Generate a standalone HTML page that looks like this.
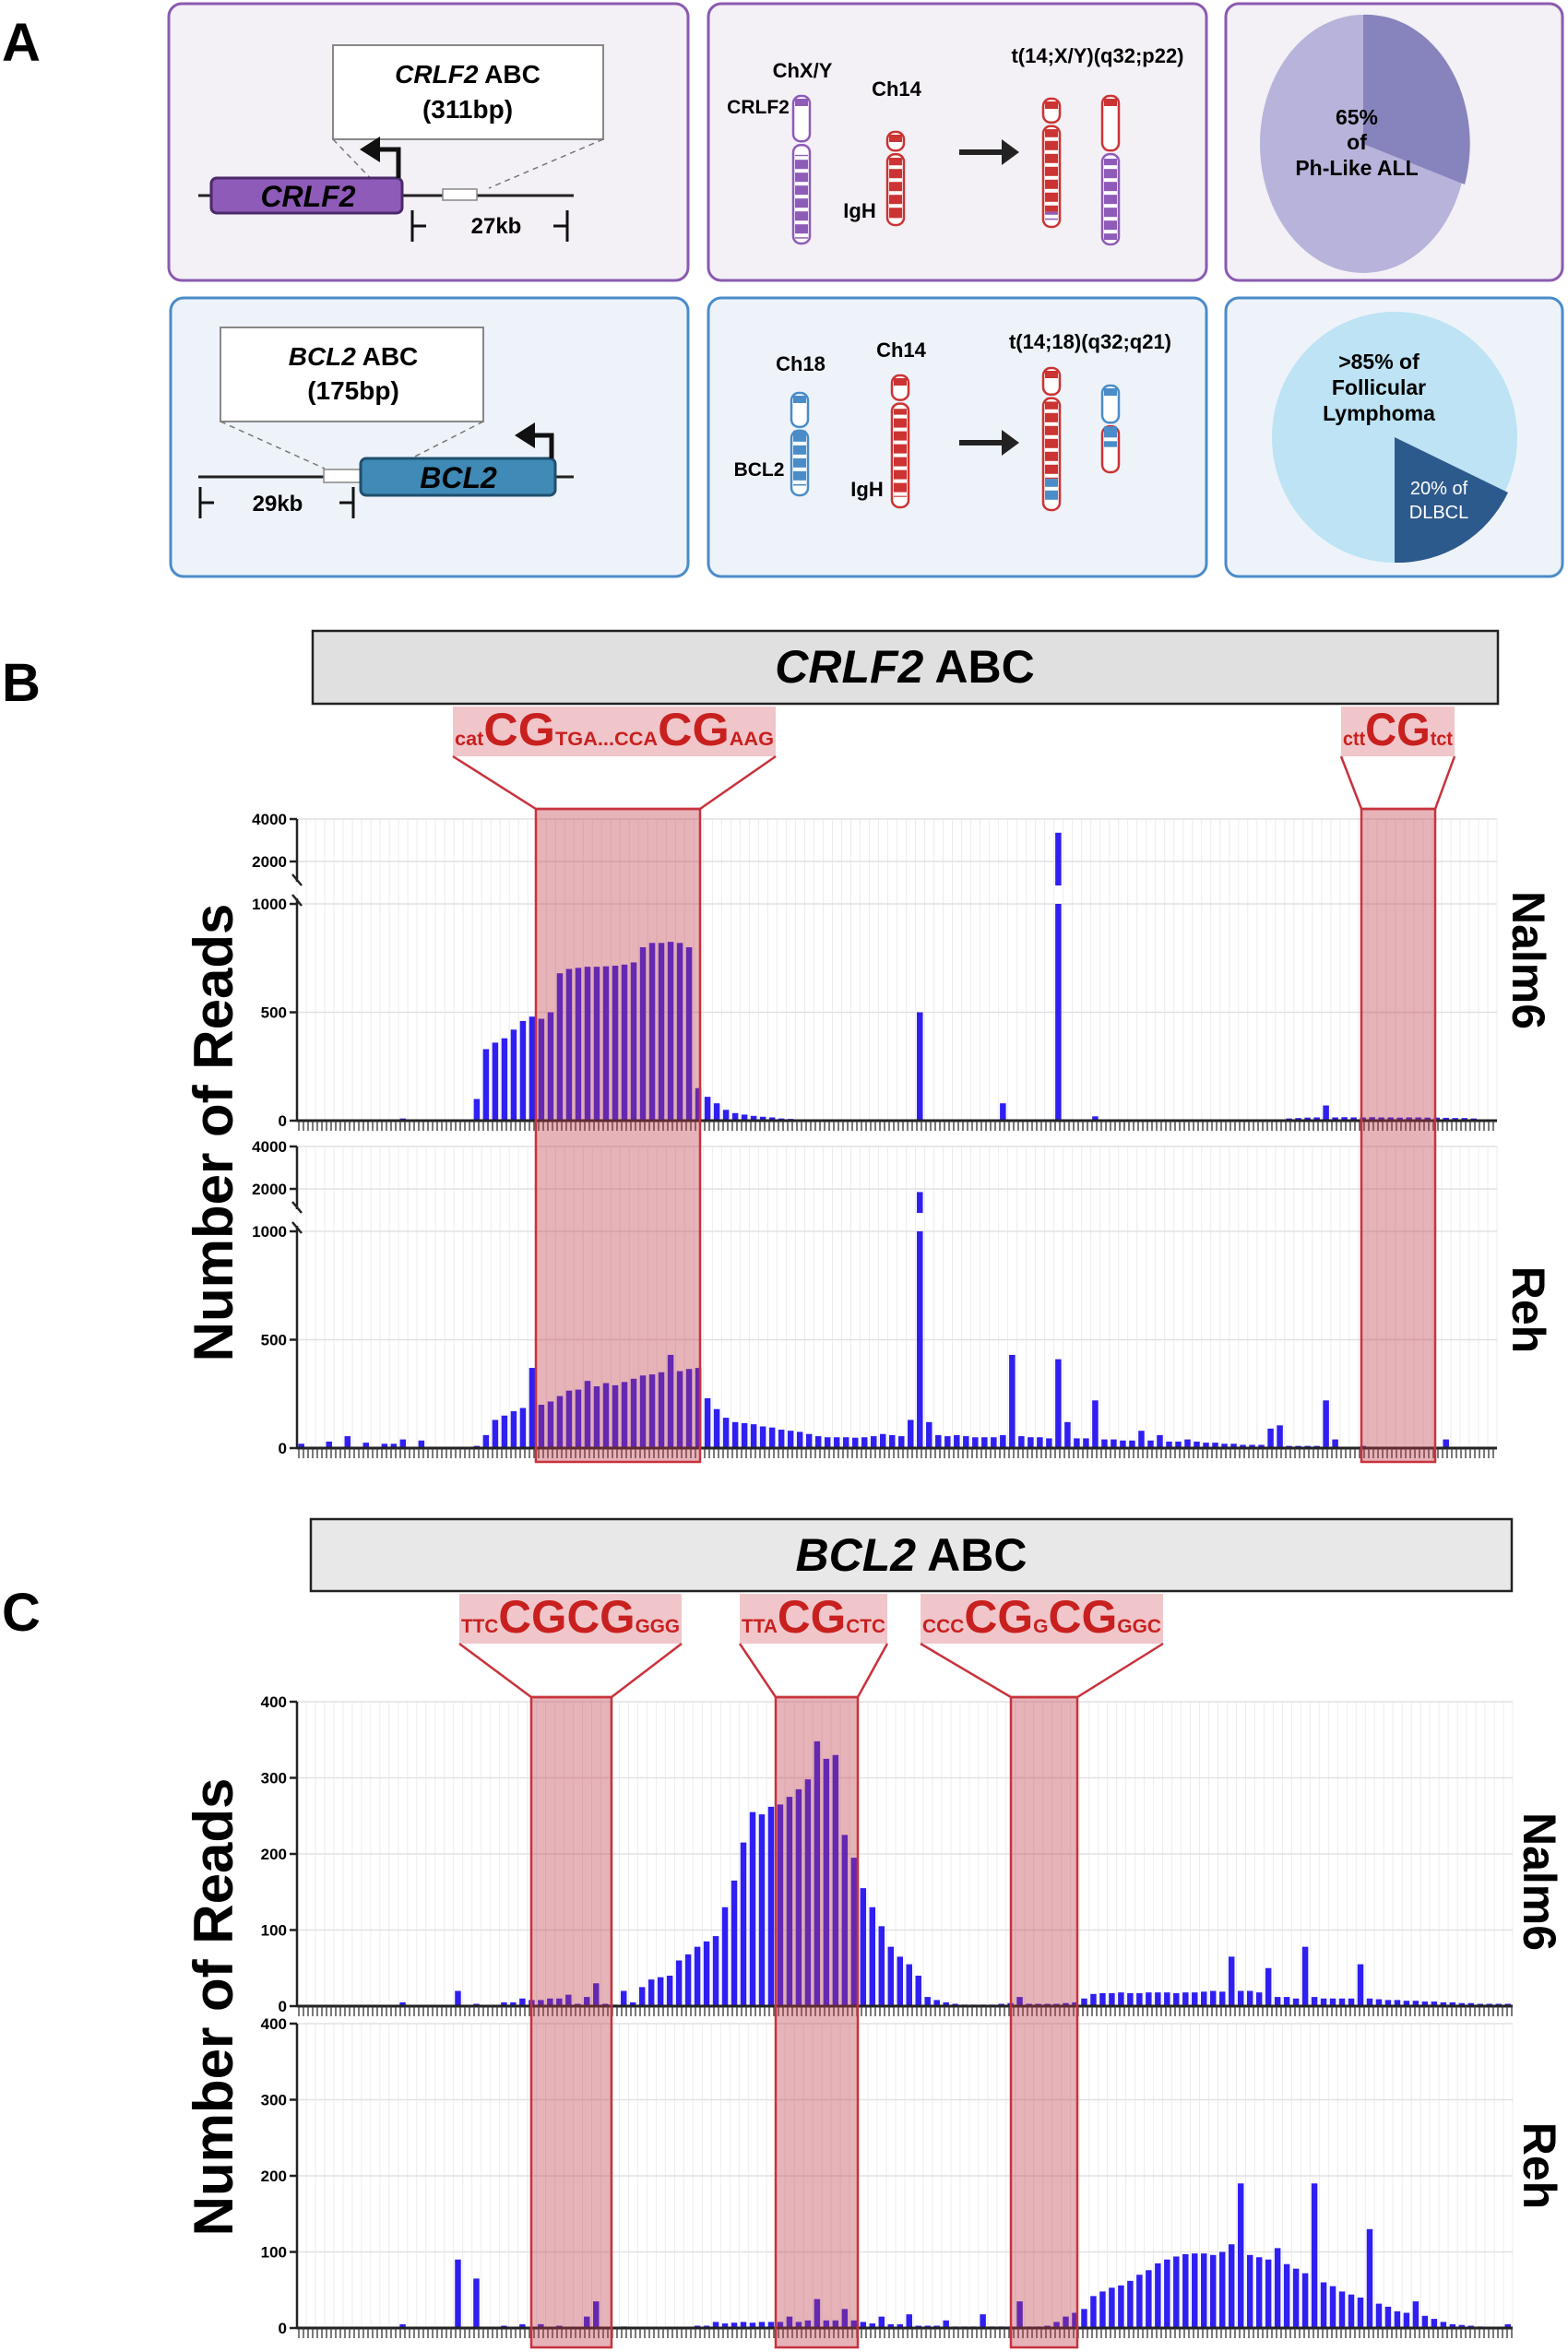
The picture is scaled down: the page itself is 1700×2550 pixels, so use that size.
<!DOCTYPE html>
<html><head><meta charset="utf-8">
<style>
html,body{margin:0;padding:0;background:#fff;}
svg{display:block;font-family:"Liberation Sans",sans-serif;}
</style></head>
<body>
<svg id="fig" width="1700" height="2550" viewBox="0 0 1700 2550" xmlns="http://www.w3.org/2000/svg">
<rect width="1700" height="2550" fill="#fff"/>
<!-- Panel A -->
<text x="2" y="66" font-size="58" font-weight="bold">A</text>
<g>
<rect x="183" y="4" width="563" height="300" rx="14" fill="#f3f0f6" stroke="#8a5ab0" stroke-width="3"/>
<rect x="361" y="49" width="293" height="102" fill="#fff" stroke="#888" stroke-width="2"/>
<text x="507" y="90" font-size="28" font-weight="bold" text-anchor="middle"><tspan font-style="italic">CRLF2</tspan> ABC</text>
<text x="507" y="128" font-size="28" font-weight="bold" text-anchor="middle">(311bp)</text>
<line x1="361" y1="151" x2="412" y2="204" stroke="#777" stroke-width="1.5" stroke-dasharray="6,5"/>
<line x1="654" y1="151" x2="530" y2="204" stroke="#777" stroke-width="1.5" stroke-dasharray="6,5"/>
<line x1="215" y1="212" x2="622" y2="212" stroke="#222" stroke-width="3"/>
<rect x="229" y="193" width="207" height="38" rx="6" fill="#8e5bb8" stroke="#4b2a6b" stroke-width="3"/>
<text x="334" y="224" font-size="32" font-weight="bold" font-style="italic" text-anchor="middle">CRLF2</text>
<rect x="480" y="205" width="37" height="12" fill="#fff" stroke="#888" stroke-width="1.5"/>
<polyline points="432,193 432,162 410,162" fill="none" stroke="#111" stroke-width="5"/>
<polygon points="390,162 412,148 412,176" fill="#111"/>
<line x1="447" y1="228" x2="447" y2="262" stroke="#111" stroke-width="3"/><line x1="447" y1="245" x2="462" y2="245" stroke="#111" stroke-width="3"/>
<line x1="615" y1="228" x2="615" y2="262" stroke="#111" stroke-width="3"/><line x1="600" y1="245" x2="615" y2="245" stroke="#111" stroke-width="3"/>
<text x="538" y="253" font-size="24" font-weight="bold" text-anchor="middle">27kb</text>
</g>
<g>
<rect x="768" y="4" width="540" height="300" rx="14" fill="#f3f0f6" stroke="#8a5ab0" stroke-width="3"/>
<text x="870" y="84" font-size="22" font-weight="bold" text-anchor="middle">ChX/Y</text>
<text x="822" y="123" font-size="21" font-weight="bold" text-anchor="middle">CRLF2</text>
<text x="972" y="104" font-size="22" font-weight="bold" text-anchor="middle">Ch14</text>
<text x="932" y="236" font-size="22" font-weight="bold" text-anchor="middle">IgH</text>
<text x="1190" y="68" font-size="22" font-weight="bold" text-anchor="middle">t(14;X/Y)(q32;p22)</text>
<line x1="1040" y1="165" x2="1088" y2="165" stroke="#222" stroke-width="6"/><polygon points="1105,165 1086,151 1086,179" fill="#222"/>
<g id="chromA"></g>
</g>
<g>
<rect x="1329" y="4" width="365" height="300" rx="14" fill="#f3f0f6" stroke="#8a5ab0" stroke-width="3"/>
<ellipse cx="1478" cy="156" rx="112" ry="140" fill="#b8b3da"/>
<path d="M1478,156 L1478,16 A112,140 0 0,1 1588,200 Z" fill="#8783bc"/>
<text x="1471" y="135" font-size="23" font-weight="bold" text-anchor="middle">65%</text>
<text x="1471" y="162" font-size="23" font-weight="bold" text-anchor="middle">of</text>
<text x="1471" y="190" font-size="23" font-weight="bold" text-anchor="middle">Ph-Like ALL</text>
</g>
<g>
<rect x="185" y="323" width="561" height="302" rx="14" fill="#eef3fa" stroke="#4a8cc8" stroke-width="3"/>
<rect x="239" y="355" width="285" height="102" fill="#fff" stroke="#888" stroke-width="2"/>
<text x="383" y="396" font-size="28" font-weight="bold" text-anchor="middle"><tspan font-style="italic">BCL2</tspan> ABC</text>
<text x="383" y="433" font-size="28" font-weight="bold" text-anchor="middle">(175bp)</text>
<line x1="239" y1="457" x2="352" y2="508" stroke="#777" stroke-width="1.5" stroke-dasharray="6,5"/>
<line x1="524" y1="457" x2="440" y2="500" stroke="#777" stroke-width="1.5" stroke-dasharray="6,5"/>
<line x1="215" y1="517" x2="622" y2="517" stroke="#222" stroke-width="3"/>
<rect x="351" y="509" width="40" height="14" fill="#fff" stroke="#888" stroke-width="1.5"/>
<rect x="391" y="497" width="211" height="40" rx="6" fill="#3f8ab6" stroke="#1f4f6e" stroke-width="3"/>
<text x="497" y="529" font-size="32" font-weight="bold" font-style="italic" text-anchor="middle">BCL2</text>
<polyline points="598,497 598,472 578,472" fill="none" stroke="#111" stroke-width="5"/>
<polygon points="558,472 580,458 580,486" fill="#111"/>
<line x1="217" y1="528" x2="217" y2="562" stroke="#111" stroke-width="3"/><line x1="217" y1="545" x2="232" y2="545" stroke="#111" stroke-width="3"/>
<line x1="383" y1="528" x2="383" y2="562" stroke="#111" stroke-width="3"/><line x1="368" y1="545" x2="383" y2="545" stroke="#111" stroke-width="3"/>
<text x="301" y="554" font-size="24" font-weight="bold" text-anchor="middle">29kb</text>
</g>
<g>
<rect x="768" y="323" width="540" height="302" rx="14" fill="#eef3fa" stroke="#4a8cc8" stroke-width="3"/>
<text x="868" y="402" font-size="22" font-weight="bold" text-anchor="middle">Ch18</text>
<text x="823" y="516" font-size="21" font-weight="bold" text-anchor="middle">BCL2</text>
<text x="977" y="387" font-size="22" font-weight="bold" text-anchor="middle">Ch14</text>
<text x="940" y="538" font-size="22" font-weight="bold" text-anchor="middle">IgH</text>
<text x="1182" y="378" font-size="22" font-weight="bold" text-anchor="middle">t(14;18)(q32;q21)</text>
<line x1="1040" y1="480" x2="1088" y2="480" stroke="#222" stroke-width="6"/><polygon points="1105,480 1086,466 1086,494" fill="#222"/>
<g id="chromB"></g>
</g>
<g>
<rect x="1329" y="323" width="365" height="302" rx="14" fill="#eef3fa" stroke="#4a8cc8" stroke-width="3"/>
<ellipse cx="1512" cy="474" rx="133" ry="136" fill="#bde3f4"/>
<path d="M1512,474 L1635,534 A133,136 0 0,1 1512,610 Z" fill="#2d5a8c"/>
<text x="1495" y="400" font-size="23" font-weight="bold" text-anchor="middle">&gt;85% of</text>
<text x="1495" y="428" font-size="23" font-weight="bold" text-anchor="middle">Follicular</text>
<text x="1495" y="456" font-size="23" font-weight="bold" text-anchor="middle">Lymphoma</text>
<text x="1560" y="536" font-size="20" fill="#fff" text-anchor="middle">20% of</text>
<text x="1560" y="562" font-size="20" fill="#fff" text-anchor="middle">DLBCL</text>
</g>

<!-- Panel B -->
<text x="2" y="760" font-size="58" font-weight="bold">B</text>
<g>
<rect x="339" y="684" width="1285" height="79" fill="#e0e0e0" stroke="#222" stroke-width="2.5"/>
<text x="981" y="740" font-size="50" font-weight="bold" text-anchor="middle"><tspan font-style="italic">CRLF2</tspan> ABC</text>
</g>
<text transform="translate(252,1228) rotate(-90)" font-size="60" font-weight="bold" text-anchor="middle">Number of Reads</text>
<text transform="translate(1640,1041) rotate(90)" font-size="50" font-weight="bold" text-anchor="middle">Nalm6</text>
<text transform="translate(1640,1420) rotate(90)" font-size="50" font-weight="bold" text-anchor="middle">Reh</text>
<g id="chartB"></g>

<!-- Panel C -->
<text x="2" y="1768" font-size="58" font-weight="bold">C</text>
<g>
<rect x="337" y="1647" width="1302" height="78" fill="#e8e8e8" stroke="#222" stroke-width="2.5"/>
<text x="988" y="1703" font-size="50" font-weight="bold" text-anchor="middle"><tspan font-style="italic">BCL2</tspan> ABC</text>
</g>
<text transform="translate(252,2176) rotate(-90)" font-size="60" font-weight="bold" text-anchor="middle">Number of Reads</text>
<text transform="translate(1652,2040) rotate(90)" font-size="50" font-weight="bold" text-anchor="middle">Nalm6</text>
<text transform="translate(1652,2348) rotate(90)" font-size="50" font-weight="bold" text-anchor="middle">Reh</text>
<g id="chartC"></g>
</svg>
<script>
// ---- data ----
const ticksB = [0, 500, 1000, 2000, 4000];
const ticksC = [0, 100, 200, 300, 400];
const nalm6B = [0,0,0,0,0,0,0,0,0,0,0,10,0,0,0,0,0,0,0,100,330,360,380,420,460,480,470,500,680,700,705,710,710,712,715,720,730,800,820,820,825,820,800,150,110,80,50,35,28,22,18,15,10,8,6,5,5,4,4,3,2,2,1,1,1,2,2,500,2,1,1,1,1,1,1,1,80,1,1,1,1,1,3200,1,1,1,20,1,1,1,1,1,1,1,1,1,1,1,1,1,1,1,1,1,1,1,1,10,12,14,15,70,15,16,15,15,16,15,15,14,15,15,14,14,13,12,12,10,5,2];
const rehB = [20,5,5,30,5,55,5,25,5,20,20,40,5,35,2,2,2,3,5,10,60,130,150,170,185,370,200,215,240,265,270,310,285,300,290,305,320,335,340,350,430,355,365,370,230,180,140,120,115,110,100,95,85,80,75,65,55,50,50,50,48,50,55,65,60,55,130,1900,120,60,55,60,55,50,50,50,60,430,55,50,50,45,410,120,45,45,220,40,40,35,35,80,35,60,30,30,40,30,25,25,20,20,15,15,15,90,105,10,10,10,10,220,40,5,5,10,5,5,5,5,5,5,5,5,40,3,3,2,2,2];
const nalm6C = [0,0,0,0,0,0,0,0,0,0,0,5,0,0,0,0,0,20,0,3,0,0,5,5,10,8,8,10,10,15,3,12,30,3,2,20,5,25,35,38,40,60,68,78,85,92,130,165,215,255,252,262,265,275,285,298,348,325,330,225,195,155,130,105,78,65,55,40,12,8,5,3,2,2,2,2,3,4,12,3,3,3,3,4,5,10,16,17,17,18,17,17,18,18,18,17,18,18,19,20,19,65,20,20,18,50,12,12,10,78,12,10,10,10,10,55,10,9,8,8,7,7,6,6,5,5,4,4,3,3,3,3];
const rehC = [0,0,0,0,0,0,0,0,0,0,0,5,0,0,0,0,0,90,0,65,0,0,3,0,5,0,5,0,3,0,0,15,35,0,0,2,0,0,0,0,0,0,0,3,3,8,6,7,8,7,8,8,8,15,8,10,38,10,10,25,10,8,6,15,5,5,18,3,3,3,10,2,2,2,18,2,2,2,35,2,2,3,8,15,20,25,42,48,53,56,62,70,76,85,90,94,97,98,98,96,100,110,190,96,93,90,105,84,78,72,190,60,55,48,44,40,130,32,28,22,20,35,16,12,8,5,4,3,2,1,1,5];
const motifsB = [["cat","CG","TGA...CCA","CG","AAG"],["ctt","CG","tct"]];
const motifsC = [["TTC","CGCG","GGG"],["TTA","CG","CTC"],["CCC","CG","G","CG","GGC"]];

const NS = "http://www.w3.org/2000/svg";
function mk(tag, attrs, parent){
  const e = document.createElementNS(NS, tag);
  for (const k in attrs) e.setAttribute(k, attrs[k]);
  parent.appendChild(e);
  return e;
}

function drawTrack(g, name, vals, ticks, x0, x1, yOf, yBase, yTop, broken){
  const n = vals.length, bw = (x1 - x0) / n;
  const grp = mk("g", {}, g);
  
  
  for (let i = 0; i <= n; i++) {
    const gl = mk("line", {x1: x0 + i*bw, x2: x0 + i*bw, y1: yTop, y2: yBase, stroke: "#ececec", "stroke-width": 1}, grp);
    
    
  }
  ticks.forEach(t => {
    const y = yOf(t);
    const hl = mk("line", {x1: x0, x2: x1, y1: y, y2: y, stroke: "#e2e2e2", "stroke-width": 1.5}, grp);
    
    
    const tk = mk("line", {x1: x0 - 8, x2: x0, y1: y, y2: y, stroke: "#222", "stroke-width": 2.5}, grp);
    
    
    const lb = mk("text", {x: x0 - 11, y: y + 6, "font-size": 17, "font-weight": "bold", "text-anchor": "end"}, grp);
    lb.textContent = t;
    
    
  });
  vals.forEach((v, i) => {
    if (v <= 0) return;
    const bx = x0 + i*bw + 1.5, w = bw - 3.5;
    if (broken && v > 1000) {
      const y1k = yOf(1000);
      const r1 = mk("rect", {x: bx, y: y1k, width: w, height: yBase - y1k, fill: "#2f1ff2"}, grp);
      
      
      const yt = yOf(v), yb = y1k - 20;
      if (yt < yb) {
        const r2 = mk("rect", {x: bx, y: yt, width: w, height: yb - yt, fill: "#2f1ff2"}, grp);
        
        
      }
    } else {
      const yt = yOf(v);
      const r = mk("rect", {x: bx, y: yt, width: w, height: yBase - yt, fill: "#2f1ff2"}, grp);
      
      
    }
  });
  if (broken) {
    const y1k = yOf(1000), y2k = yOf(2000);
    const a1 = mk("line", {x1: x0, x2: x0, y1: yTop, y2: y2k + 22, stroke: "#222", "stroke-width": 2.5}, grp);
    
    
    const a2 = mk("line", {x1: x0, x2: x0, y1: y1k - 6, y2: yBase, stroke: "#222", "stroke-width": 2.5}, grp);
    
    
    [y2k + 20, y1k - 4].forEach(yy => {
      const s = mk("line", {x1: x0 - 5, x2: x0 + 5, y1: yy - 6, y2: yy + 6, stroke: "#222", "stroke-width": 2.5}, grp);
      
      
    });
  } else {
    const a = mk("line", {x1: x0, x2: x0, y1: yTop, y2: yBase, stroke: "#222", "stroke-width": 2.5}, grp);
    
    
  }
  const base = mk("line", {x1: x0, x2: x1, y1: yBase, y2: yBase, stroke: "#222", "stroke-width": 3}, grp);
  
  
  for (let x = x0 + 2; x < x1; x += 5) {
    const t = mk("line", {x1: x, x2: x, y1: yBase, y2: yBase + 11, stroke: "#333", "stroke-width": 1.3}, grp);
    
    
  }
}

function brokenScale(base, y1k, step){
  return v => v <= 1000 ? base - v/1000*(base - y1k) : y1k - step*Math.log2(v/1000);
}
function linScale(base, top, max){ return v => base - v/max*(base - top); }

function drawMotif(g, name, parts, bx0, bx1, by0, by1, rx0, rx1, rTop, rBot){
  const grp = mk("g", {}, g);
  
  
  mk("rect", {x: bx0, y: by0, width: bx1 - bx0, height: by1 - by0, fill: "#f0c6ca"}, grp);
  const t = mk("text", {x: (bx0 + bx1)/2, y: by1 - 12, "text-anchor": "middle", fill: "#c8201f", "font-weight": "bold", textLength: bx1 - bx0 - 4, lengthAdjust: "spacingAndGlyphs"}, grp);
  parts.forEach((p, idx) => {
    const s = mk("tspan", {"font-size": idx % 2 === 1 ? 50 : 21}, t);
    s.textContent = p;
  });
  mk("polyline", {points: `${bx0},${by1} ${rx0},${rTop} ${rx1},${rTop} ${bx1},${by1}`, fill: "none", stroke: "#c8323c", "stroke-width": 2.5}, grp);
  const r = mk("rect", {x: rx0, y: rTop, width: rx1 - rx0, height: rBot - rTop, fill: "rgba(190,55,70,0.38)", stroke: "#c8323c", "stroke-width": 2.5}, grp);
  
  
}

// ---- Panel B ----
const gB = document.getElementById("chartB");
drawTrack(gB, "nalm6-crlf2", nalm6B, ticksB, 322, 1623, brokenScale(1215, 980, 46), 1215, 888, true);
drawTrack(gB, "reh-crlf2", rehB, ticksB, 322, 1623, brokenScale(1570, 1335, 46), 1570, 1243, true);
drawMotif(gB, "motif-b1", motifsB[0], 491, 841, 766, 820, 581, 759, 877, 1585);
drawMotif(gB, "motif-b2", motifsB[1], 1454, 1577, 766, 820, 1476, 1556, 877, 1585);

// ---- Panel C ----
const gC = document.getElementById("chartC");
drawTrack(gC, "nalm6-bcl2", nalm6C, ticksC, 322, 1640, linScale(2175, 1845, 400), 2175, 1845, false);
drawTrack(gC, "reh-bcl2", rehC, ticksC, 322, 1640, linScale(2524, 2194, 400), 2524, 2194, false);
drawMotif(gC, "motif-c1", motifsC[0], 498, 739, 1728, 1782, 576, 663, 1840, 2545);
drawMotif(gC, "motif-c2", motifsC[1], 802, 962, 1728, 1782, 841, 930, 1840, 2545);
drawMotif(gC, "motif-c3", motifsC[2], 998, 1261, 1728, 1782, 1096, 1168, 1840, 2545);

// ---- chromosomes ----
function chrom(g, name, x, top, bot, cent, col, pCol, qSpec){
  const grp = mk("g", {}, g);
  
  
  const w = 18, cy = top + (bot - top)*cent;
  mk("rect", {x: x - w/2, y: top, width: w, height: cy - top - 2, rx: 8, fill: "#fff", stroke: pCol, "stroke-width": 2.5}, grp);
  mk("rect", {x: x - w/2 + 2, y: top + 3, width: w - 4, height: Math.min(8, cy - top - 8), fill: pCol}, grp);
  const qh = bot - cy - 2;
  mk("rect", {x: x - w/2, y: cy + 2, width: w, height: qh, rx: 8, fill: "#fff", stroke: col, "stroke-width": 2.5}, grp);
  qSpec.forEach(s => {
    const y1 = cy + 2 + qh*s[0], y2 = cy + 2 + qh*s[1];
    mk("rect", {x: x - w/2 + 2, y: y1, width: w - 4, height: y2 - y1, fill: s[2]}, grp);
  });
  for (let y = cy + 14; y < bot - 10; y += 14) {
    mk("rect", {x: x - w/2 + 2, y: y, width: w - 4, height: 4, fill: "#fff"}, grp);
  }
}
const P = "#8e5bb8", R = "#cc3333", B = "#4a8cc8";
const cA = document.getElementById("chromA");
chrom(cA, "chromosome-xy", 869, 104, 264, 0.32, P, P, [[0.1, 0.95, P]]);
chrom(cA, "chromosome-14", 971, 143, 244, 0.22, R, R, [[0.05, 0.9, R]]);
chrom(cA, "derivative-14", 1140, 107, 246, 0.2, R, R, [[0.03, 0.85, R], [0.85, 0.93, P]]);
chrom(cA, "derivative-xy", 1204, 104, 265, 0.38, P, R, [[0.05, 0.95, P]]);
const cB = document.getElementById("chromB");
chrom(cB, "chromosome-18", 867, 426, 537, 0.35, B, B, [[0.0, 0.85, B]]);
chrom(cB, "chromosome-14b", 976, 407, 550, 0.2, R, R, [[0.05, 0.9, R]]);
chrom(cB, "derivative-14b", 1140, 399, 553, 0.2, R, R, [[0.03, 0.72, R], [0.72, 0.92, B]]);
chrom(cB, "derivative-18", 1204, 418, 512, 0.45, R, B, [[0.0, 0.45, B]]);
</script>
</body></html>
